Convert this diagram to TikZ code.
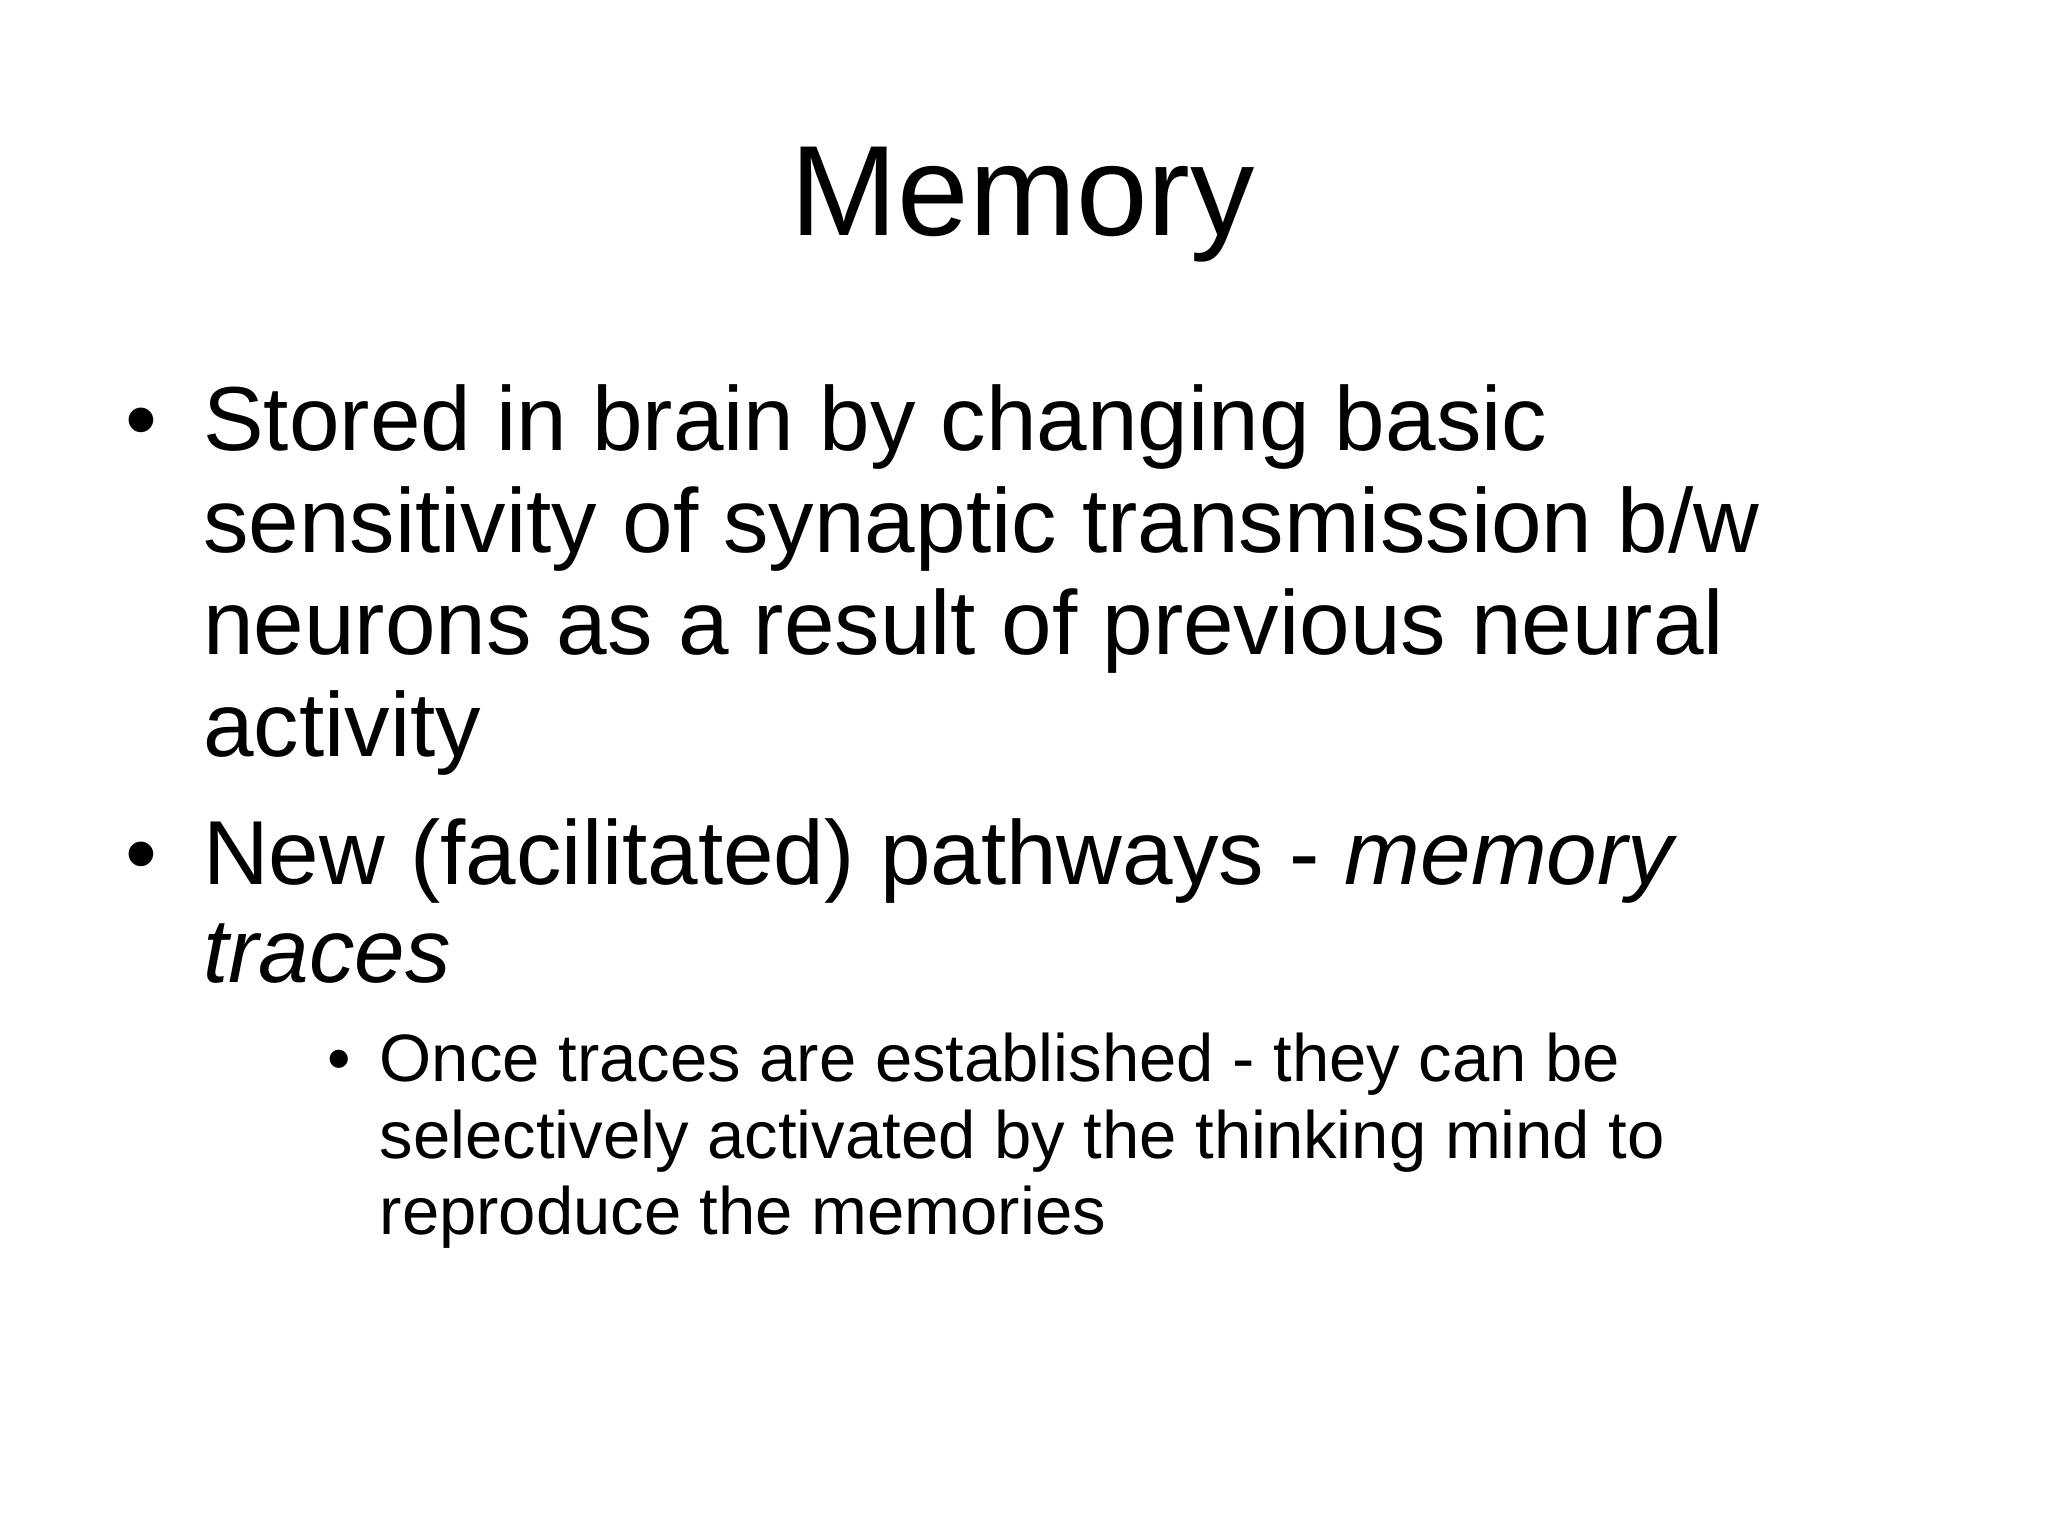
\documentclass[tikz,border=0pt]{standalone}
\usepackage{fontspec}
\setmainfont{Liberation Sans}
\begin{document}
\begin{tikzpicture}
\useasboundingbox (0,0) rectangle (15.68,11.76);
\tikzset{
 body/.style={anchor=base west,inner sep=0pt,font=\fontsize{19.8pt}{22.1pt}\selectfont},
 sub/.style={anchor=base west,inner sep=0pt,font=\fontsize{14.6pt}{16.5pt}\selectfont},
}
\node[anchor=base,inner sep=0pt,font=\fontsize{28pt}{30pt}\selectfont] (title) at (7.83,9.96) {Memory};
\node[body] (d1) at (0.95,8.31) {•};
\node[body] (b1a) at (1.55,8.31) {Stored in brain by changing basic};
\node[body] (b1b) at (1.55,7.53) {sensitivity of synaptic transmission b/w};
\node[body] (b1c) at (1.55,6.75) {neurons as a result of previous neural};
\node[body] (b1d) at (1.55,5.97) {activity};
\node[body] (d2) at (0.95,4.99) {•};
\node[body] (b2a) at (1.55,4.99) {New (facilitated) pathways - \textit{memory}};
\node[body] (b2b) at (1.55,4.24) {\textit{traces}};
\node[sub] (d3) at (2.50,3.48) {•};
\node[sub] (s1a) at (2.90,3.48) {Once traces are established - they can be};
\node[sub] (s1b) at (2.90,2.89) {selectively activated by the thinking mind to};
\node[sub] (s1c) at (2.90,2.31) {reproduce the memories};
\end{tikzpicture}
\end{document}
